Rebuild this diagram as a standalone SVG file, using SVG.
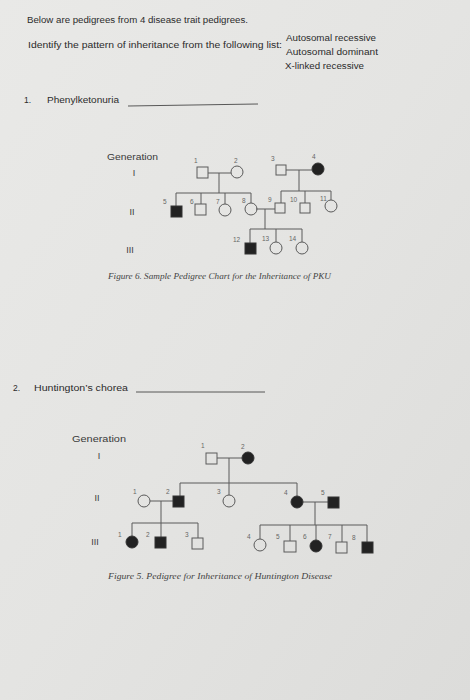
<svg xmlns="http://www.w3.org/2000/svg" width="470" height="700" viewBox="0 0 470 700">
<defs>
<linearGradient id="bg" x1="0" y1="0" x2="1" y2="1">
<stop offset="0" stop-color="#e9e9e7"/>
<stop offset="0.5" stop-color="#e4e4e2"/>
<stop offset="1" stop-color="#dcdcda"/>
</linearGradient>
<style>
.t{font-family:"Liberation Sans",Arial,sans-serif;font-size:8.5px;fill:#2b2b2b}
.g{font-family:"Liberation Sans",Arial,sans-serif;font-size:9px;fill:#3a3a3a}
.n{font-family:"Liberation Sans",Arial,sans-serif;font-size:6.5px;fill:#666}
.cap{font-family:"Liberation Serif","Times New Roman",serif;font-style:italic;font-size:9px;fill:#444}
.ln{stroke:#5a5a5a;stroke-width:1;fill:none}
.u{fill:none;stroke:#5a5a5a;stroke-width:1}
.a{fill:#222;stroke:#333;stroke-width:1}
.ul{stroke:#333;stroke-width:0.8}
</style>
</defs>
<rect width="470" height="700" fill="url(#bg)"/>

<g id="header">
<text class="t" x="27" y="23" textLength="221" lengthAdjust="spacingAndGlyphs">Below are pedigrees from 4 disease trait pedigrees.</text>
<text class="t" x="28" y="48" textLength="254" lengthAdjust="spacingAndGlyphs">Identify the pattern of inheritance from the following list:</text>
<text class="t" x="286" y="41" textLength="90" lengthAdjust="spacingAndGlyphs">Autosomal recessive</text>
<text class="t" x="286" y="55" textLength="92" lengthAdjust="spacingAndGlyphs">Autosomal dominant</text>
<text class="t" x="285" y="69" textLength="79" lengthAdjust="spacingAndGlyphs">X-linked recessive</text>
<text class="t" x="24" y="103">1.</text>
<text class="t" x="47" y="103" textLength="72" lengthAdjust="spacingAndGlyphs">Phenylketonuria</text>
<line class="ul" x1="128" y1="106" x2="258" y2="104"/>
<text class="t" x="13" y="391">2.</text>
<text class="t" x="34" y="391" textLength="94" lengthAdjust="spacingAndGlyphs">Huntington’s chorea</text>
<line class="ul" x1="136" y1="392" x2="265" y2="392"/>
</g>

<!-- Pedigree 1: PKU -->
<g id="pku-labels">
<text class="g" x="107" y="160" textLength="51" lengthAdjust="spacingAndGlyphs">Generation</text>
<text class="g" x="134" y="176" text-anchor="middle">I</text>
<text class="g" x="132" y="215" text-anchor="middle">II</text>
<text class="g" x="130" y="253" text-anchor="middle">III</text>
<text class="cap" x="108" y="279" textLength="223" lengthAdjust="spacingAndGlyphs">Figure 6. Sample Pedigree Chart for the Inheritance of PKU</text>
</g>
<g id="pku-connectors" class="ln">
<path d="M208 173H231M219 173V193M176 193H251M176 193V206M201 193V204M225 193V204M251 193V203"/>
<path d="M286 170H312M299 170V191M281 191H331M281 191V203M305 191V203M331 191V200"/>
<path d="M256 209H275M265 209V229M250 229H302M250 229V243M276 229V242M302 229V242"/>
</g>
<g id="pku-1"><rect class="u" x="197" y="167" width="11" height="11"/><text class="n" x="194" y="163">1</text></g>
<g id="pku-2"><circle class="u" cx="237" cy="172" r="6"/><text class="n" x="234" y="163">2</text></g>
<g id="pku-3"><rect class="u" x="276" y="165" width="10" height="10"/><text class="n" x="271" y="161">3</text></g>
<g id="pku-4"><circle class="a" cx="318" cy="169" r="6"/><text class="n" x="312" y="159">4</text></g>
<g id="pku-5"><rect class="a" x="171" y="206" width="11" height="11"/><text class="n" x="163" y="204">5</text></g>
<g id="pku-6"><rect class="u" x="195" y="204" width="11" height="11"/><text class="n" x="190" y="204">6</text></g>
<g id="pku-7"><circle class="u" cx="225" cy="210" r="6"/><text class="n" x="216" y="204">7</text></g>
<g id="pku-8"><circle class="u" cx="251" cy="209" r="6"/><text class="n" x="242" y="203">8</text></g>
<g id="pku-9"><rect class="u" x="275" y="203" width="10" height="10"/><text class="n" x="268" y="202">9</text></g>
<g id="pku-10"><rect class="u" x="300" y="203" width="10" height="10"/><text class="n" x="290" y="202">10</text></g>
<g id="pku-11"><circle class="u" cx="331" cy="206" r="6"/><text class="n" x="320" y="201">11</text></g>
<g id="pku-12"><rect class="a" x="245" y="243" width="11" height="11"/><text class="n" x="233" y="242">12</text></g>
<g id="pku-13"><circle class="u" cx="276" cy="248" r="6"/><text class="n" x="262" y="241">13</text></g>
<g id="pku-14"><circle class="u" cx="302" cy="248" r="6"/><text class="n" x="289" y="241">14</text></g>

<!-- Pedigree 2: Huntington -->
<g id="hd-labels">
<text class="g" x="72" y="442" textLength="54" lengthAdjust="spacingAndGlyphs">Generation</text>
<text class="g" x="99" y="459" text-anchor="middle">I</text>
<text class="g" x="97" y="501" text-anchor="middle">II</text>
<text class="g" x="95" y="545" text-anchor="middle">III</text>
<text class="cap" x="108" y="579" textLength="224" lengthAdjust="spacingAndGlyphs">Figure 5. Pedigree for Inheritance of Huntington Disease</text>
</g>
<g id="hd-connectors" class="ln">
<path d="M217 458H242M229 458V483M180 483H297M180 483V496M229 483V495M297 483V496"/>
<path d="M150 501H173M161 501V523M132 523H198M132 523V536M161 523V537M198 523V538"/>
<path d="M303 502H328M315 502V525M260 525H367M260 525V539M290 525V541M316 525V540M342 525V542M367 525V542"/>
</g>
<g id="hd-I-1"><rect class="u" x="206" y="453" width="11" height="11"/><text class="n" x="201" y="448">1</text></g>
<g id="hd-I-2"><circle class="a" cx="248" cy="458" r="6"/><text class="n" x="241" y="449">2</text></g>
<g id="hd-II-1"><circle class="u" cx="144" cy="501" r="6"/><text class="n" x="133" y="494">1</text></g>
<g id="hd-II-2"><rect class="a" x="173" y="496" width="11" height="11"/><text class="n" x="166" y="494">2</text></g>
<g id="hd-II-3"><circle class="u" cx="229" cy="501" r="6"/><text class="n" x="217" y="494">3</text></g>
<g id="hd-II-4"><circle class="a" cx="297" cy="502" r="6"/><text class="n" x="284" y="495">4</text></g>
<g id="hd-II-5"><rect class="a" x="328" y="497" width="11" height="11"/><text class="n" x="321" y="495">5</text></g>
<g id="hd-III-1"><circle class="a" cx="132" cy="542" r="6"/><text class="n" x="118" y="537">1</text></g>
<g id="hd-III-2"><rect class="a" x="155" y="537" width="11" height="11"/><text class="n" x="146" y="537">2</text></g>
<g id="hd-III-3"><rect class="u" x="192" y="538" width="11" height="11"/><text class="n" x="185" y="537">3</text></g>
<g id="hd-III-4"><circle class="u" cx="260" cy="545" r="6"/><text class="n" x="247" y="539">4</text></g>
<g id="hd-III-5"><rect class="u" x="284" y="541" width="12" height="11"/><text class="n" x="276" y="539">5</text></g>
<g id="hd-III-6"><circle class="a" cx="316" cy="546" r="6"/><text class="n" x="303" y="539">6</text></g>
<g id="hd-III-7"><rect class="u" x="336" y="542" width="11" height="11"/><text class="n" x="328" y="539">7</text></g>
<g id="hd-III-8"><rect class="a" x="362" y="542" width="11" height="11"/><text class="n" x="352" y="540">8</text></g>
</svg>
